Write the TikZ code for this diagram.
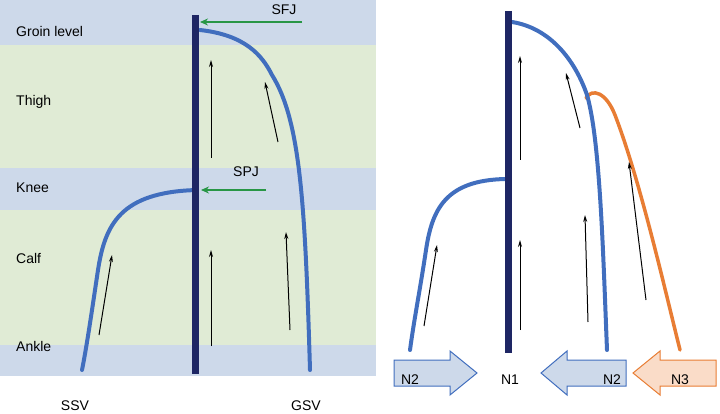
\documentclass[tikz,border=0pt]{standalone}
\usepackage{fontspec}
\setmainfont{Liberation Sans}
\usetikzlibrary{arrows.meta}
\begin{document}
\begin{tikzpicture}[x=1pt,y=-1pt,
  lbl/.style={font=\fontsize{14}{16}\selectfont,inner sep=0},
  deep/.style={line width=7pt,draw={rgb,255:red,30;green,38;blue,100}},
  vein/.style={line width=4pt,draw={rgb,255:red,65;green,110;blue,190},line cap=round},
  ovein/.style={line width=3.5pt,draw={rgb,255:red,232;green,125;blue,52},line cap=round},
  flow/.style={-{Stealth[length=7pt,width=4pt]},line width=1pt},
  junc/.style={-{Stealth[length=8pt,width=7pt]},line width=1.2pt,draw={rgb,255:red,40;green,150;blue,70}}]
\definecolor{bandb}{RGB}{205,217,234}
\definecolor{bandg}{RGB}{224,235,213}
\useasboundingbox (0,0) rectangle (720,414);
\fill[bandb] (0,0) rectangle (376,45);
\fill[bandg] (0,45) rectangle (376,168);
\fill[bandb] (0,168) rectangle (376,210);
\fill[bandg] (0,210) rectangle (376,345);
\fill[bandb] (0,345) rectangle (376,376);
\node[lbl,anchor=west] (g) at (16,31) {Groin level};
\node[lbl,anchor=west] (t) at (16,102) {Thigh};
\node[lbl,anchor=west] (k) at (16,188) {Knee};
\node[lbl,anchor=west] (c) at (16,258) {Calf};
\node[lbl,anchor=west] (a) at (16,346) {Ankle};
\node[lbl] (ssv) at (75,406) {SSV};
\node[lbl] (gsv) at (306,406) {GSV};
% left panel
\draw[vein] (200,30) .. controls (245,35) and (262,55) .. (272,75) .. controls (300,120) and (305,200) .. (310,370);
\draw[vein] (197,190) .. controls (120,192) and (105,225) .. (98,270) .. controls (92,310) and (87,345) .. (82,370);
\draw[deep] (195,15) -- (195,374);
\coordinate (sfjs) at (302,22); \coordinate (sfje) at (200,22);
\draw[junc] (sfjs) -- (sfje);
\node[lbl] (sfj) at (284,10) {SFJ};
\coordinate (spjs) at (266,190); \coordinate (spje) at (201,190);
\draw[junc] (spjs) -- (spje);
\node[lbl] (spj) at (246,172) {SPJ};
\draw[flow] (211,158) -- (211,60);
\draw[flow] (278,142) -- (265,82);
\draw[flow] (211,346) -- (211,250);
\draw[flow] (290,330) -- (286,232);
\draw[flow] (99,335) -- (112,255);
% right panel
\draw[ovein] (586,98) .. controls (592,88) and (606,92) .. (615,115) .. controls (640,180) and (665,290) .. (680,350);
\draw[vein] (512,22) .. controls (550,28) and (575,60) .. (587,95) .. controls (600,140) and (603,250) .. (607,350);
\draw[vein] (506,179) .. controls (445,180) and (432,210) .. (426,250) .. controls (420,290) and (414,320) .. (410,350);
\draw[deep] (508,11) -- (508,353);
\draw[flow] (520,160) -- (520,56);
\draw[flow] (580,128) -- (566,73);
\draw[flow] (520,330) -- (520,240);
\draw[flow] (588,322) -- (585,215);
\draw[flow] (646,300) -- (629,162);
\draw[flow] (424,326) -- (437,245);
% block arrows
\draw[fill={rgb,255:red,205;green,217;blue,234},draw={rgb,255:red,65;green,110;blue,190},line width=1pt]
  (394,360) -- (450,360) -- (450,351) -- (477,373) -- (450,395) -- (450,386) -- (394,386) -- cycle;
\node[lbl] (n2a) at (410,380) {N2};
\node[lbl] (n1) at (510,380) {N1};
\draw[fill={rgb,255:red,205;green,217;blue,234},draw={rgb,255:red,65;green,110;blue,190},line width=1pt]
  (626,360) -- (567,360) -- (567,351) -- (541,373) -- (567,395) -- (567,386) -- (626,386) -- cycle;
\node[lbl] (n2b) at (612,380) {N2};
\draw[fill={rgb,255:red,250;green,220;blue,200},draw={rgb,255:red,232;green,125;blue,52},line width=1pt]
  (716,360) -- (660,360) -- (660,351) -- (633,373) -- (660,395) -- (660,386) -- (716,386) -- cycle;
\node[lbl] (n3) at (680,380) {N3};
\end{tikzpicture}
\end{document}
